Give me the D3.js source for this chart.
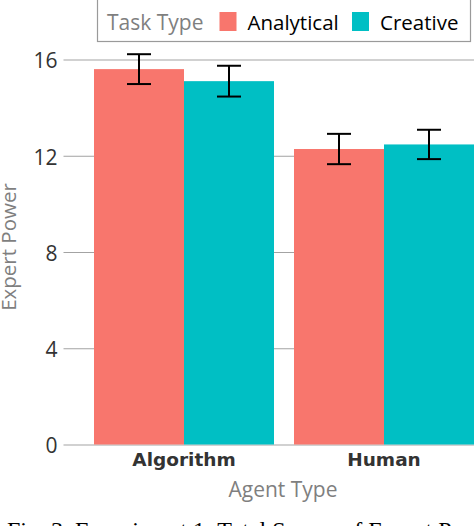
<!DOCTYPE html>
<html>
<head>
<meta charset="utf-8">
<script src="https://cdn.jsdelivr.net/npm/d3@7"></script>
<style>
  html, body { margin: 0; padding: 0; background: #fff; overflow: hidden; }
  svg { display: block; }
</style>
</head>
<body>
<div id="chart"></div>
<script>
// data
const agents = ['Algorithm', 'Human'];
const tasks = ['Analytical', 'Creative'];
const analyticalMeans = [15.6, 12.28];
const creativeMeans = [15.1, 12.47];
const analyticalErr = [0.62, 0.63];
const creativeErr = [0.64, 0.61];
const yTicks = [0, 4, 8, 12, 16];
const colors = ['#F8766D', '#00BFC4'];

const width = 474;
const height = 526;
const margin = {top: 59.5, right: -30, bottom: 81.5, left: 64};
const sans = 'Open Sans';

const rows = [];
agents.forEach((a, i) => {
  rows.push({agent: a, task: tasks[0], mean: analyticalMeans[i], err: analyticalErr[i]});
  rows.push({agent: a, task: tasks[1], mean: creativeMeans[i], err: creativeErr[i]});
});

const svg = d3.select('#chart')
    .append('svg')
    .attr('width', width)
    .attr('height', height);

const x0 = d3.scaleBand()
    .domain(agents)
    .range([margin.left, width - margin.right])
    .paddingInner(0.1)
    .paddingOuter(0.15);

const x1 = d3.scaleBand()
    .domain(tasks)
    .range([0, x0.bandwidth()]);

const color = d3.scaleOrdinal().domain(tasks).range(colors);

const y = d3.scaleLinear()
    .domain([0, 16])
    .range([height - margin.bottom, margin.top]);

// y axis + gridlines
const yAxis = d3.axisLeft(y)
    .tickValues(yTicks)
    .tickSize(-(width - margin.right - margin.left))
    .tickPadding(6);

const gy = svg.append('g')
    .attr('transform', `translate(${margin.left - 0.5},0)`)
    .call(yAxis);
gy.select('.domain').remove();
gy.selectAll('.tick line').attr('stroke', '#a3a3a3').attr('stroke-width', 1);
gy.selectAll('.tick text')
    .attr('font-family', sans)
    .attr('font-size', 21)
    .attr('fill', '#333')
    .attr('dy', '0.4em');

// bars
svg.append('g')
    .selectAll('rect')
    .data(rows)
    .join('rect')
    .attr('x', (d) => x0(d.agent) + x1(d.task))
    .attr('y', (d) => y(d.mean))
    .attr('width', x1.bandwidth())
    .attr('height', (d) => y(0) - y(d.mean))
    .attr('fill', (d) => color(d.task));

// error bars
const capW = 24;
const eb = svg.append('g')
    .attr('stroke', '#000')
    .attr('stroke-width', 2)
    .selectAll('g')
    .data(rows)
    .join('g')
    .attr('transform', (d) => `translate(${x0(d.agent) + x1(d.task) + x1.bandwidth() / 2},0)`);
eb.append('line')
    .attr('y1', (d) => y(d.mean + d.err))
    .attr('y2', (d) => y(d.mean - d.err));
eb.append('line')
    .attr('x1', -capW / 2).attr('x2', capW / 2)
    .attr('y1', (d) => y(d.mean + d.err))
    .attr('y2', (d) => y(d.mean + d.err));
eb.append('line')
    .attr('x1', -capW / 2).attr('x2', capW / 2)
    .attr('y1', (d) => y(d.mean - d.err))
    .attr('y2', (d) => y(d.mean - d.err));

// x axis
const gx = svg.append('g')
    .attr('transform', `translate(0,${y(0)})`)
    .call(d3.axisBottom(x0).tickSize(0).tickPadding(0));
gx.select('.domain').remove();
gx.selectAll('.tick text')
    .attr('font-family', 'DejaVu Sans')
    .attr('font-weight', 'bold')
    .attr('font-size', 18.5)
    .attr('fill', '#333')
    .attr('dy', 0)
    .attr('y', 21.5);

// axis titles
svg.append('text')
    .attr('text-anchor', 'middle')
    .attr('font-family', sans)
    .attr('font-size', 21)
    .attr('fill', '#7f7f7f')
    .attr('x', (margin.left + width - margin.right) / 2 - 1)
    .attr('y', 497)
    .text('Agent Type');

svg.append('text')
    .attr('text-anchor', 'middle')
    .attr('font-family', sans)
    .attr('font-size', 20.5)
    .attr('fill', '#7f7f7f')
    .attr('transform', 'translate(16,247) rotate(-90)')
    .text('Expert Power');

// legend
const legend = svg.append('g');
legend.append('rect')
    .attr('x', 97.5).attr('y', -10)
    .attr('width', 373).attr('height', 51.5)
    .attr('fill', '#fff')
    .attr('stroke', '#9a9a9a')
    .attr('stroke-width', 1.2);
legend.append('text')
    .attr('x', 107).attr('y', 30)
    .attr('font-family', sans)
    .attr('font-size', 21)
    .attr('fill', '#7f7f7f')
    .text('Task Type');
const keyX = [219.5, 352];
const item = legend.selectAll('g.item')
    .data(tasks)
    .join('g')
    .attr('class', 'item')
    .attr('transform', (d, i) => `translate(${keyX[i]},0)`);
item.append('rect')
    .attr('y', 12).attr('width', 17).attr('height', 19)
    .attr('fill', (d) => color(d));
item.append('text')
    .attr('x', 28).attr('y', 30)
    .attr('font-family', sans)
    .attr('font-size', 20.5)
    .attr('fill', '#000')
    .text((d) => d);

// caption (cut off by the frame, as in the source)
svg.append('text')
    .attr('x', 7).attr('y', 538)
    .attr('font-family', 'Liberation Serif')
    .attr('font-size', 24)
    .attr('fill', '#000')
    .text('Fig. 3. Experiment 1: Total Scores of Expert Power');
</script>
</body>
</html>
